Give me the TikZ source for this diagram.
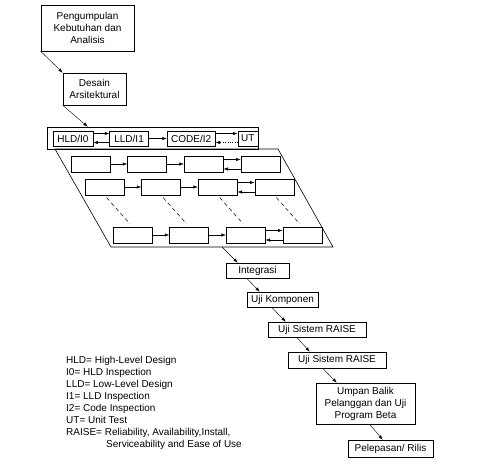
\documentclass[tikz,border=0pt]{standalone}
\usepackage{fontspec}
\setmainfont{Liberation Sans}
\usetikzlibrary{positioning, arrows.meta}

\begin{document}
\begin{tikzpicture}[x=1pt,y=-1pt,node distance=17pt,>={Latex[length=4.5pt,width=3.2pt]},font=\fontsize{10}{12}\selectfont]

	\tikzstyle{block}=[draw=black,line width=0.6pt,align=center,inner sep=1pt]
	\tikzstyle{cell}=[block,minimum width=39pt,minimum height=16pt]
	\tikzstyle{link}=[->,line width=0.4pt]
	\tikzstyle{gap}=[line width=0.5pt,dash pattern=on 4pt off 3pt,shorten <=3pt,shorten >=4pt]

	\useasboundingbox (0,0) rectangle (485,468);

	\node[block,minimum width=93pt,minimum height=46pt] (kebutuhan) at (87.5,28) {Pengumpulan\\Kebutuhan dan\\Analisis};
	\node[block,minimum width=63pt,minimum height=32pt] (desain) at (94.5,89) {Desain\\Arsitektural};

	\node[block,minimum width=211pt,minimum height=22pt] (frame) at (152.5,138) {};
	\node[block,minimum width=40pt,minimum height=15pt] (hld) at (73,138.5) {HLD/I0};
	\node[block,minimum width=39pt,minimum height=15pt,right=16pt of hld] (lld) {LLD/I1};
	\node[block,minimum width=48pt,minimum height=15pt,right=18pt of lld] (code) {CODE/I2};
	\node[block,minimum width=20pt,minimum height=15pt,right=22pt of code] (ut) {UT};

	\draw[line width=0.6pt] (55,149) -- (278,149) -- (333,247) -- (111,247) -- cycle;
	\coordinate (parbot) at (222,247);

	\node[cell] (r1a) at (90.5,164) {};
	\node[cell,right=of r1a] (r1b) {};
	\node[cell,right=of r1b] (r1c) {};
	\node[cell,right=of r1c] (r1d) {};
	\node[cell] (r2a) at (104.5,187) {};
	\node[cell,right=of r2a] (r2b) {};
	\node[cell,right=of r2b] (r2c) {};
	\node[cell,right=of r2c] (r2d) {};
	\node[cell] (r3a) at (132.5,235) {};
	\node[cell,right=of r3a] (r3b) {};
	\node[cell,right=of r3b] (r3c) {};
	\node[cell,right=of r3c] (r3d) {};

	\node[block,minimum width=63pt,minimum height=15pt] (integrasi) at (257.5,270.5) {Integrasi};
	\node[block,minimum width=71pt,minimum height=15pt] (komponen) at (282.5,299.5) {Uji Komponen};
	\node[block,minimum width=98pt,minimum height=15pt] (sistema) at (317,329.5) {Uji Sistem RAISE};
	\node[block,minimum width=98pt,minimum height=16pt] (sistemb) at (337,360) {Uji Sistem RAISE};
	\node[block,minimum width=99pt,minimum height=41pt] (umpan) at (365.5,403.5) {Umpan Balik\\Pelanggan dan Uji\\Program Beta};
	\node[block,minimum width=85pt,minimum height=17pt] (rilis) at (390.5,448.5) {Pelepasan/ Rilis};

	\node[anchor=north west,align=left,inner sep=0pt] (legenda) at (66,355.8) {HLD= High-Level Design\\I0= HLD Inspection\\LLD= Low-Level Design\\I1= LLD Inspection\\I2= Code Inspection\\UT= Unit Test\\RAISE= Reliability, Availability,Install,\\\hspace*{40pt}Serviceability and Ease of Use};

	\draw[link] (kebutuhan.south west) -- (desain.north west);
	\draw[link] (desain.south west) -- ([xshift=41pt]frame.north west);

	\draw[link] ([yshift=5pt]hld.east) -- ([yshift=5pt]lld.west);
	\draw[link] ([yshift=-4pt]lld.west) -- ([yshift=-4pt]hld.east);
	\draw[link] (lld) -- (code);
	\draw[link] ([yshift=5pt]code.east) -- ([yshift=5pt]ut.west);
	\draw[link,dotted] ([yshift=-4pt]ut.west) -- ([yshift=-4pt]code.east);

	\draw[link] (r1a) -- (r1b);
	\draw[link] (r1b) -- (r1c);
	\draw[link] ([yshift=4.5pt]r1c.east) -- ([yshift=4.5pt]r1d.west);
	\draw[link] ([yshift=-5pt]r1d.west) -- ([yshift=-5pt]r1c.east);
	\draw[link] (r2a) -- (r2b);
	\draw[link] (r2b) -- (r2c);
	\draw[link] ([yshift=4.5pt]r2c.east) -- ([yshift=4.5pt]r2d.west);
	\draw[link] ([yshift=-5pt]r2d.west) -- ([yshift=-5pt]r2c.east);
	\draw[link] (r3a) -- (r3b);
	\draw[link] (r3b) -- (r3c);
	\draw[link] ([yshift=4.5pt]r3c.east) -- ([yshift=4.5pt]r3d.west);
	\draw[link] ([yshift=-5pt]r3d.west) -- ([yshift=-5pt]r3c.east);

	\draw[gap] (r2a.south) -- (r3a.north);
	\draw[gap] (r2b.south) -- (r3b.north);
	\draw[gap] (r2c.south) -- (r3c.north);
	\draw[gap] (r2d.south) -- (r3d.north);

	\draw[link] (parbot) -- ([xshift=12pt]integrasi.north west);
	\draw[link] ([xshift=21pt]integrasi.south west) -- ([xshift=13pt]komponen.north west);
	\draw[link] ([xshift=25pt]komponen.south west) -- ([xshift=18pt]sistema.north west);
	\draw[link] ([xshift=29pt]sistema.south west) -- ([xshift=22pt]sistemb.north west);
	\draw[link] ([xshift=35pt]sistemb.south west) -- ([xshift=21pt]umpan.north west);
	\draw[link] ([xshift=54pt]umpan.south west) -- ([xshift=35pt]rilis.north west);
\end{tikzpicture}
\end{document}
